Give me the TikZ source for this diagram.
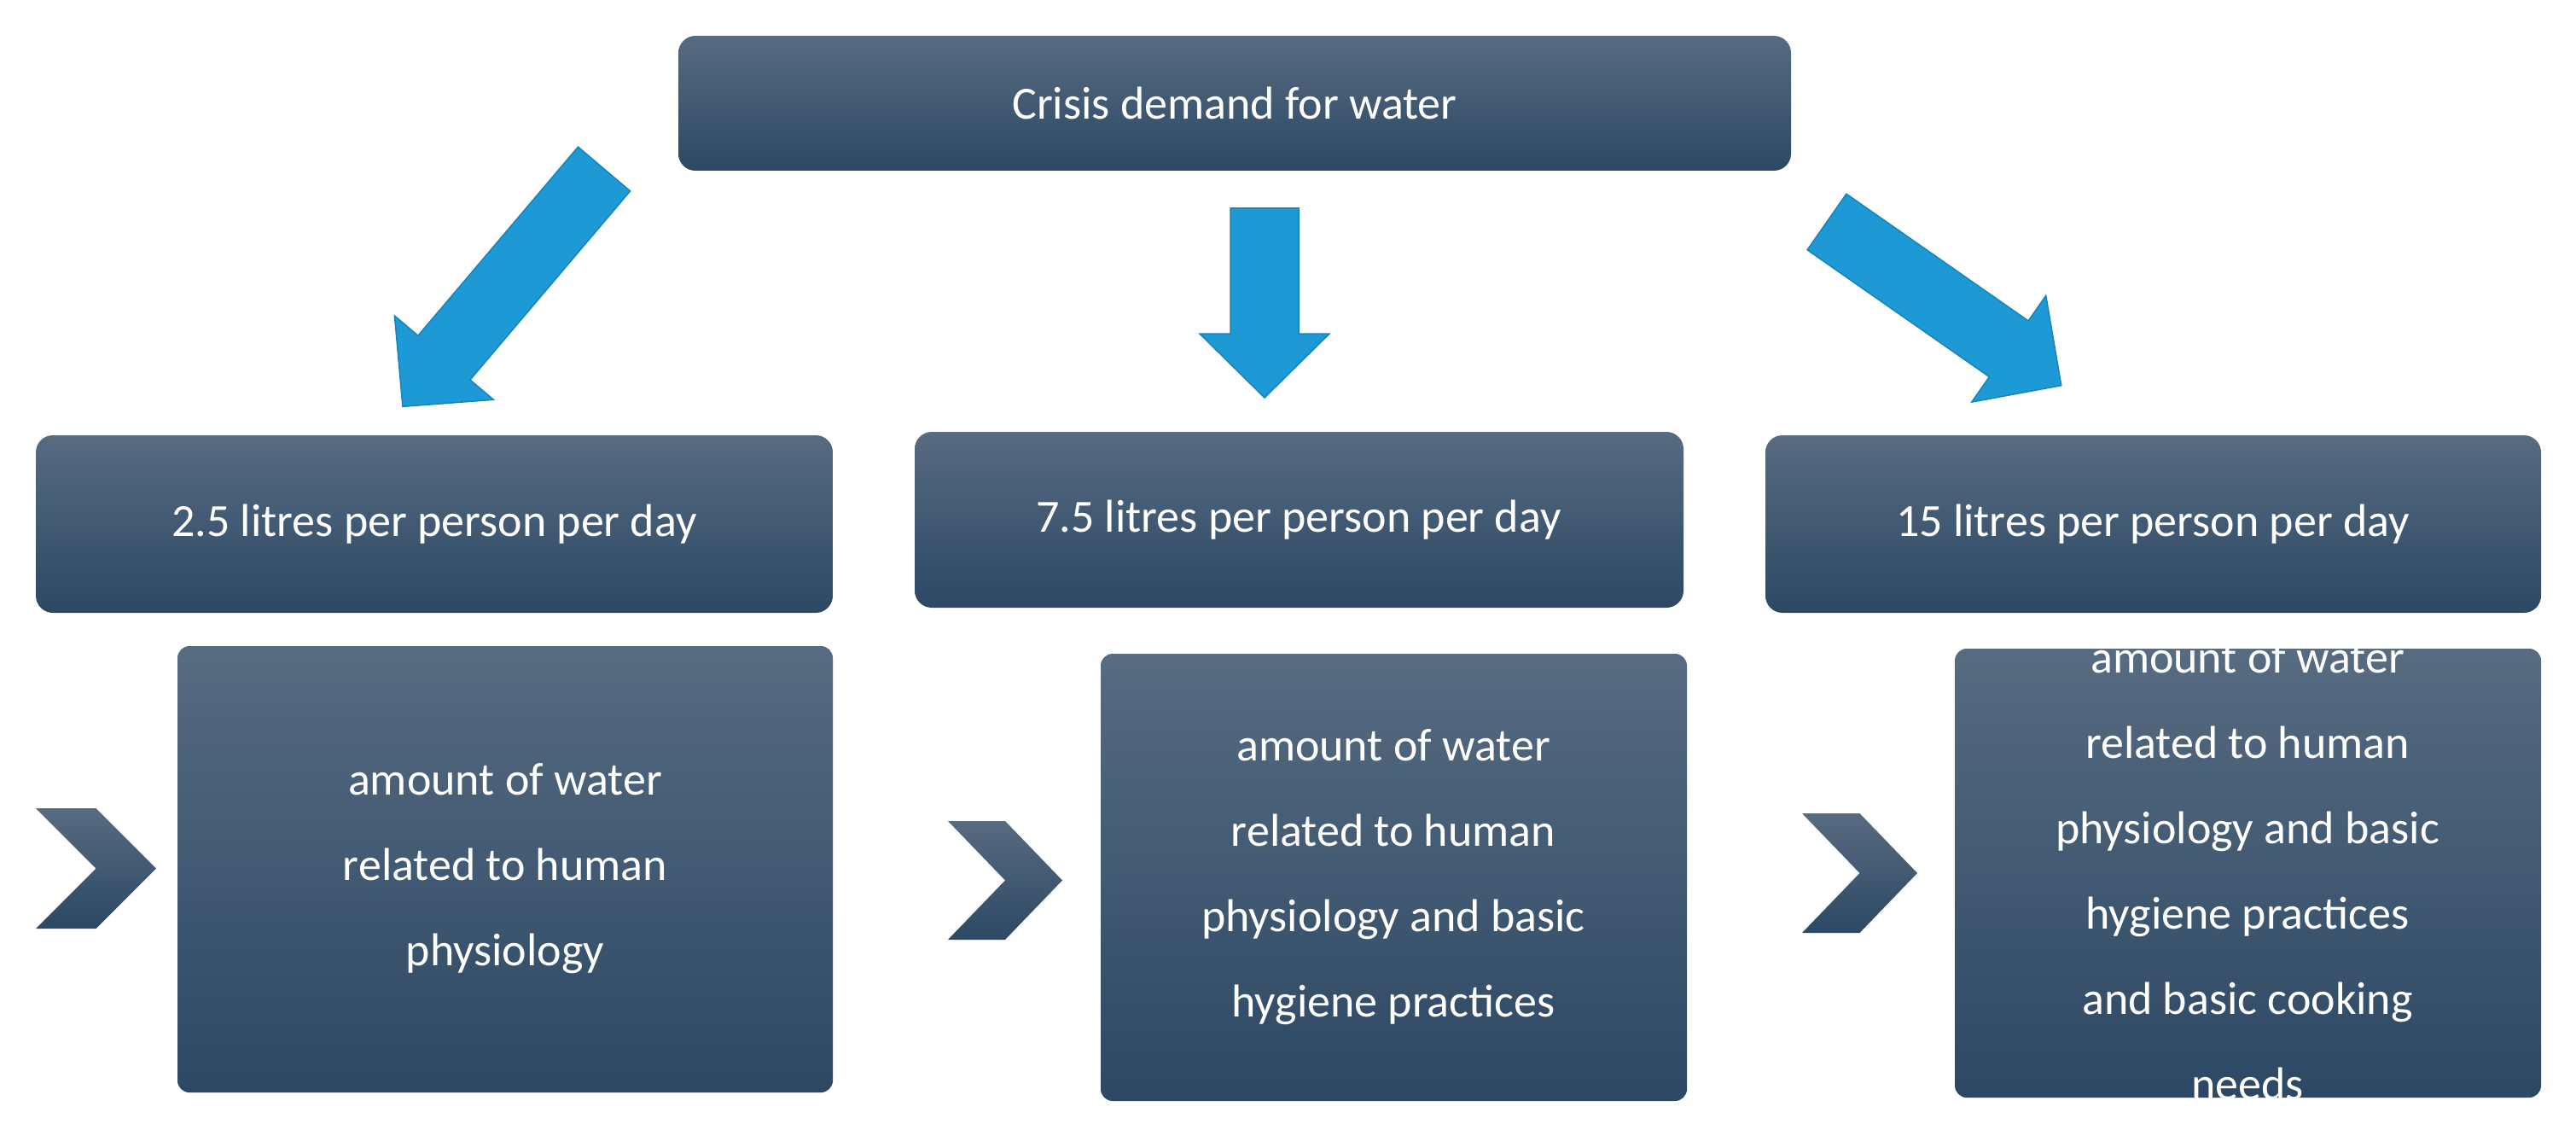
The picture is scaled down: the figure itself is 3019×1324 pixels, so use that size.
\documentclass[tikz,border=0pt]{standalone}
\usepackage{fontspec}
\setmainfont{Carlito}
\definecolor{boxtop}{HTML}{576B81}
\definecolor{boxbot}{HTML}{2C4864}
\definecolor{arr}{HTML}{1D9AD6}
\definecolor{arrline}{HTML}{1784B8}
\tikzset{
  bx/.style={rounded corners=20pt, top color=boxtop, bottom color=boxbot, draw=none},
  lbl/.style={text=white, align=center, font=\fontsize{54}{100}\selectfont},
  barrow/.style={fill=arr, draw=arrline, line width=1.5pt},
  chev/.style={top color=boxtop, bottom color=boxbot, draw=none}
}
\newcommand{\blockarrow}[4]{% x y angle length
  \begin{scope}[shift={(#1,#2)}, rotate=#3]
    \path[barrow] (0,-40) -- ({#4-75},-40) -- ({#4-75},-76) -- (#4,0) -- ({#4-75},76) -- ({#4-75},40) -- (0,40) -- cycle;
  \end{scope}}
\newcommand{\chevron}[4]{% x1 y1 x2 y2
  \path[chev] (#1,#2) -- ({#1+0.5*(#3-#1)},#2) -- (#3,{0.5*(#2+#4)}) -- ({#1+0.5*(#3-#1)},#4) -- (#1,#4) -- ({#1+0.5*(#3-#1)},{0.5*(#2+#4)}) -- cycle;}
\begin{document}
\begin{tikzpicture}[x=1pt,y=-1pt]
\useasboundingbox (0,0) rectangle (3019,1324);
\fill[white] (0,0) rectangle (3019,1324);
% top box
\path[bx] (795,42) rectangle (2099,200);
\node[lbl] (top) at (1447,121) {Crisis demand for water};
% row boxes
\path[bx] (42,510) rectangle (976,718);
\node[lbl] (a) at (509,614) {2.5 litres per person per day};
\path[bx] (1072,506) rectangle (1973,712);
\node[lbl] (b) at (1522,609) {7.5 litres per person per day};
\path[bx] (2069,510) rectangle (2978,718);
\node[lbl] (c) at (2523,614) {15 litres per person per day};
% bottom boxes
\path[bx, rounded corners=14pt] (208,757) rectangle (976,1280);
\node[lbl] (a2) at (592,1018) {amount of water\\related to human\\physiology};
\path[bx, rounded corners=14pt] (1290,766) rectangle (1977,1290);
\node[lbl] (b2) at (1633,1028) {amount of water\\related to human\\physiology and basic\\hygiene practices};
\path[bx, rounded corners=14pt] (2291,760) rectangle (2978,1286);
\node[lbl] (c2) at (2634,1020) {amount of water\\related to human\\physiology and basic\\hygiene practices\\and basic cooking\\needs};
% chevrons
\chevron{42}{947}{183}{1088}
\chevron{1111}{962}{1245}{1101}
\chevron{2112}{953}{2247}{1093}
% block arrows
\blockarrow{708}{198}{229.7}{365}
\blockarrow{1482}{244}{270}{222}
\blockarrow{2141}{260}{-34.9}{335}
\end{tikzpicture}
\end{document}
